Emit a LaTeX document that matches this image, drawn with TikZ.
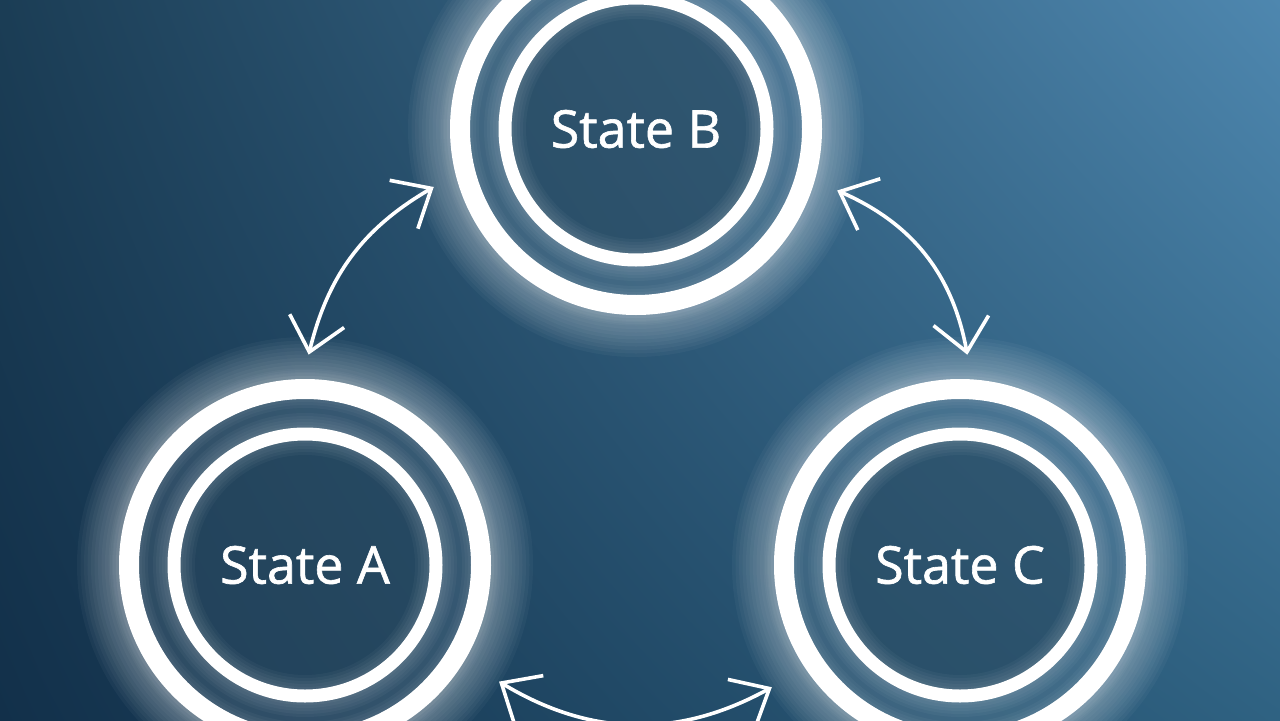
\documentclass[tikz,border=0pt]{standalone}
\usepackage{fontspec}
\setmainfont{Open Sans}
\newfontfamily\statefont{Open Sans}[FakeBold=1.2]
\usetikzlibrary{arrows.meta,backgrounds,shadings}

\definecolor{bgUL}{HTML}{1B3D55}
\definecolor{bgUR}{HTML}{4E87AF}
\definecolor{bgLL}{HTML}{12304A}
\definecolor{bgLR}{HTML}{2F6282}
\definecolor{diskcol}{HTML}{173A52}

\tikzset{
  state/.style={circle,minimum size=210pt,inner sep=0pt,text=white,
    font=\statefont\fontsize{26}{30}\selectfont},
  outerring/.style={draw=white,line width=10pt},
  innerring/.style={draw=white,line width=6.5pt},
  halo/.style={white,opacity=0.035},
  link/.style={white,line width=1.8pt,line cap=round,
    {Straight Barb[length=16pt,width=28pt]}-{Straight Barb[length=16pt,width=28pt]}}
}

\begin{document}
\begin{tikzpicture}[x=0.5pt,y=0.5pt]
  \useasboundingbox (0,0) rectangle (1280,720);

  % states
  \node[state] (A) at (305,155) {State A};
  \node[state] (B) at (636,591) {State B};
  \node[state] (C) at (960,155) {State C};

  \begin{scope}[on background layer]
    \shade[upper left=bgUL,upper right=bgUR,lower left=bgLL,lower right=bgLR]
      (0,0) rectangle (1280,720);
    \foreach \s in {A,B,C} {
      % halo outside the outer ring
      \begin{scope}[even odd rule]
        \clip (\s) circle (600) (\s) circle (176);
        \foreach \i in {1,...,12}
          \draw[halo,line width=10pt+\i*3.5pt] (\s) circle (176);
      \end{scope}
      \fill[white,opacity=0.1] (\s) circle (176);
      \fill[diskcol,opacity=0.5] (\s) circle (126);
      % halo inside, round both rings
      \foreach \i in {1,...,5}
        \draw[halo,line width=6pt+\i*3pt] (\s) circle (131);
      \foreach \i in {1,...,3}
        \draw[halo,line width=10pt+\i*3pt] (\s) circle (176);
      \draw[outerring] (\s) circle (176);
      \draw[innerring] (\s) circle (131);
    }
  \end{scope}

  % transitions
  \draw[link] (A.89.5) to[bend left=23] (B.196.5);
  \draw[link] (B.343) to[bend left=28] (C.88.6);
  \draw[link] ([shift={(329:16)}]A.329) to[bend right=30] ([shift={(213:14)}]C.213);
\end{tikzpicture}
\end{document}
